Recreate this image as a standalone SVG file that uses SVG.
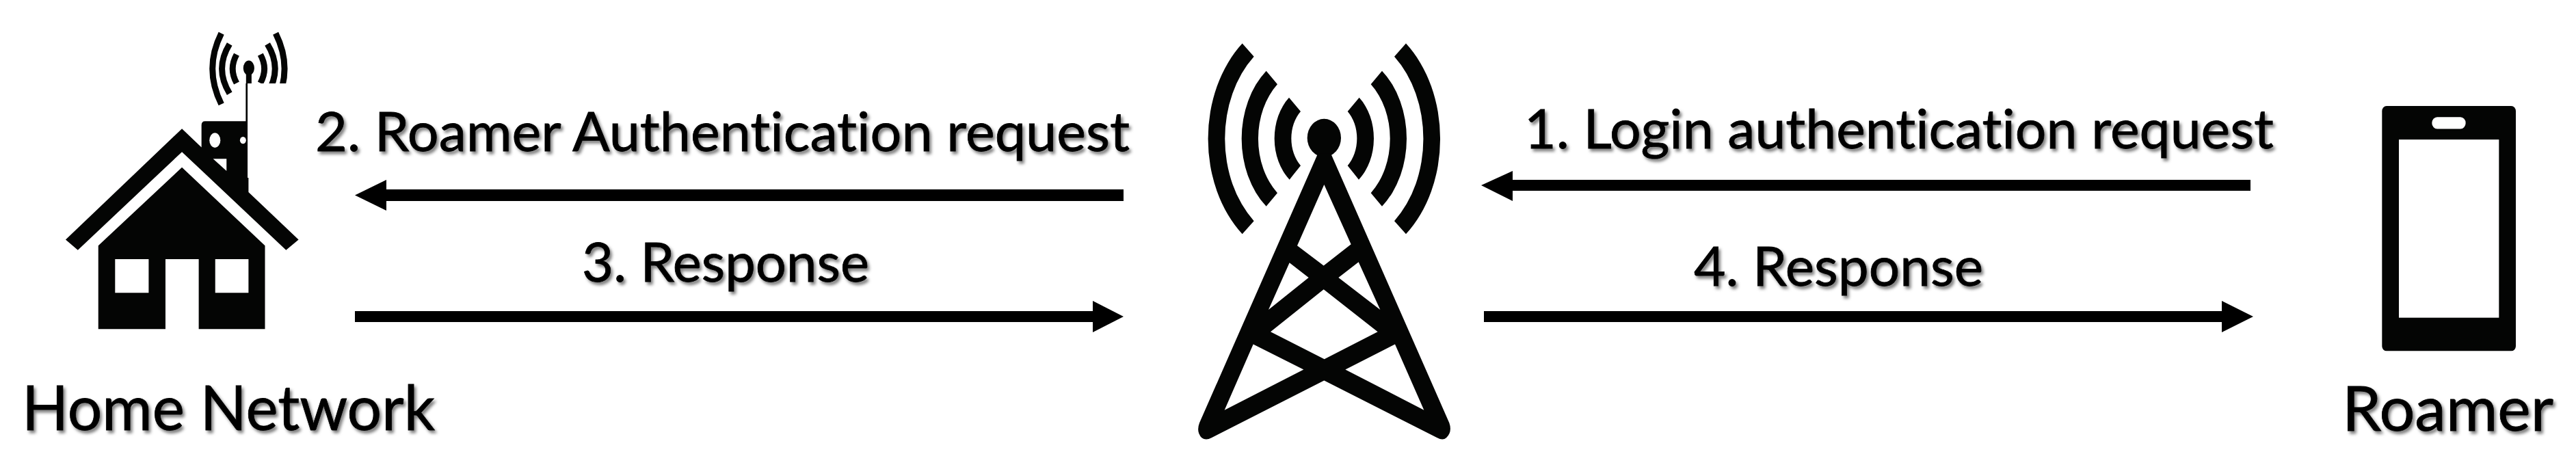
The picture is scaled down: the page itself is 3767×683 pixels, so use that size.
<svg xmlns="http://www.w3.org/2000/svg" xmlns:xlink="http://www.w3.org/1999/xlink" width="3767" height="683" viewBox="0 0 3767 683">
<style>
.i{fill:#040504}
.h{fill:#fff}
.w{fill:none;stroke:#040504;stroke-width:20}
.t{font-family:"Lato","Liberation Sans",sans-serif;fill:#000;stroke:#000;stroke-width:0.8px;filter:url(#s);font-variant-ligatures:none}
.m{font-size:80px}
.l{font-size:91px}
.c{fill:#000}
</style>
<defs>
<filter id="s" x="-5%" y="-20%" width="110%" height="150%"><feDropShadow dx="3" dy="4" stdDeviation="2.2" flood-color="#000" flood-opacity="0.5"/></filter>
<clipPath id="ac"><rect x="660" y="90" width="300" height="190"/><rect x="660" y="90" width="152" height="280"/></clipPath>
<path id="wv" d="M350,146A416,416 0 0 0 350,786L401,742A363,363 0 0 1 401,190ZM455,238A293.600,293.600 0 0 0 455,693L504,648A240,240 0 0 1 504,283ZM555,328A178,178 0 0 0 557,603L606,556A121.500,121.500 0 0 1 606,374Z"/>
</defs>
<rect width="3767" height="683" fill="#fff"/>
<g id="home-network">
<g transform="scale(0.44643,0.43554)">
<g clip-path="url(#ac)">
<path class="w" d="M725,112Q667,231 725,350M752,148Q702,231 752,314M775,183Q749,231 775,279M903,112Q961,231 903,350M876,148Q926,231 876,314M853,183Q879,231 853,279"/>
</g>
<path class="i" d="M805,280V407H672Q660,407 660,420V495L596,432L215,805L255,840L596,510L937,840L978,805L814,645V597L811,597V280ZM806,280V250A18,25 0 1 1 824,250V280Z"/>
<path class="h" d="M698,533H742V574Z"/>
<ellipse class="h" cx="704" cy="471" rx="18" ry="25"/>
<ellipse class="h" cx="796" cy="471" rx="10" ry="12"/>
<path class="i" fill-rule="evenodd" d="M596,562L868,825V1105H651V870H542V1105H322V825ZM377,870V983H487V870ZM705,870V983H814V870Z"/>
</g>
<text class="t l" x="32" y="629" textLength="604" lengthAdjust="spacingAndGlyphs">Home Network</text>
</g>
<g id="tower" transform="translate(1700,0) scale(0.33333,0.43554)">
<use xlink:href="#wv" class="i"/>
<use xlink:href="#wv" class="i" transform="translate(1418,0) scale(-1,1)"/>
<ellipse class="i" cx="709" cy="463" rx="74" ry="64"/>
<path class="i" fill-rule="evenodd" d="M682,515H738L1258,1420Q1272,1450 1245,1470Q1230,1480 1205,1470L709,1278L215,1470Q190,1480 172,1470Q147,1450 162,1420ZM709,620L591,825L707,892L827,820ZM557,882L465,1040L641,932ZM860,880L772,932L955,1040ZM707,972L474,1114L710,1206L944,1114ZM398,1156L272,1377L619,1241ZM1020,1156L802,1241L1147,1377Z"/>
</g>
<g id="roamer">
<g transform="translate(3300,100) scale(0.33333,0.37171)">
<rect class="i" x="550" y="148" width="587" height="964" rx="20" ry="20"/>
<rect class="h" x="624" y="280" width="439" height="701"/>
<rect class="h" x="769" y="192" width="148" height="46" rx="23" ry="23"/>
</g>
<text class="t l" x="3425" y="630" textLength="309" lengthAdjust="spacingAndGlyphs">Roamer</text>
</g>
<g id="connectors">
<rect class="c" x="560" y="277" width="1083" height="17"/><path class="c" d="M519,285.500L565,263V308Z"/>
<rect class="c" x="519" y="455" width="1085" height="16"/><path class="c" d="M1643,463L1598,440V486Z"/>
<rect class="c" x="2208" y="263" width="1083" height="16"/><path class="c" d="M2166,271L2212,250V294Z"/>
<rect class="c" x="2170" y="455" width="1085" height="16"/><path class="c" d="M3295,463L3249,440V486Z"/>
</g>
<g id="labels">
<text class="t m" x="461" y="221" textLength="1191" lengthAdjust="spacingAndGlyphs">2. Roamer Authentication request</text>
<text class="t m" x="851" y="412" textLength="420" lengthAdjust="spacingAndGlyphs">3. Response</text>
<text class="t m" x="2229" y="217" textLength="1096" lengthAdjust="spacingAndGlyphs">1. Login authentication request</text>
<text class="t m" x="2477" y="418" textLength="423" lengthAdjust="spacingAndGlyphs">4. Response</text>
</g>
</svg>
